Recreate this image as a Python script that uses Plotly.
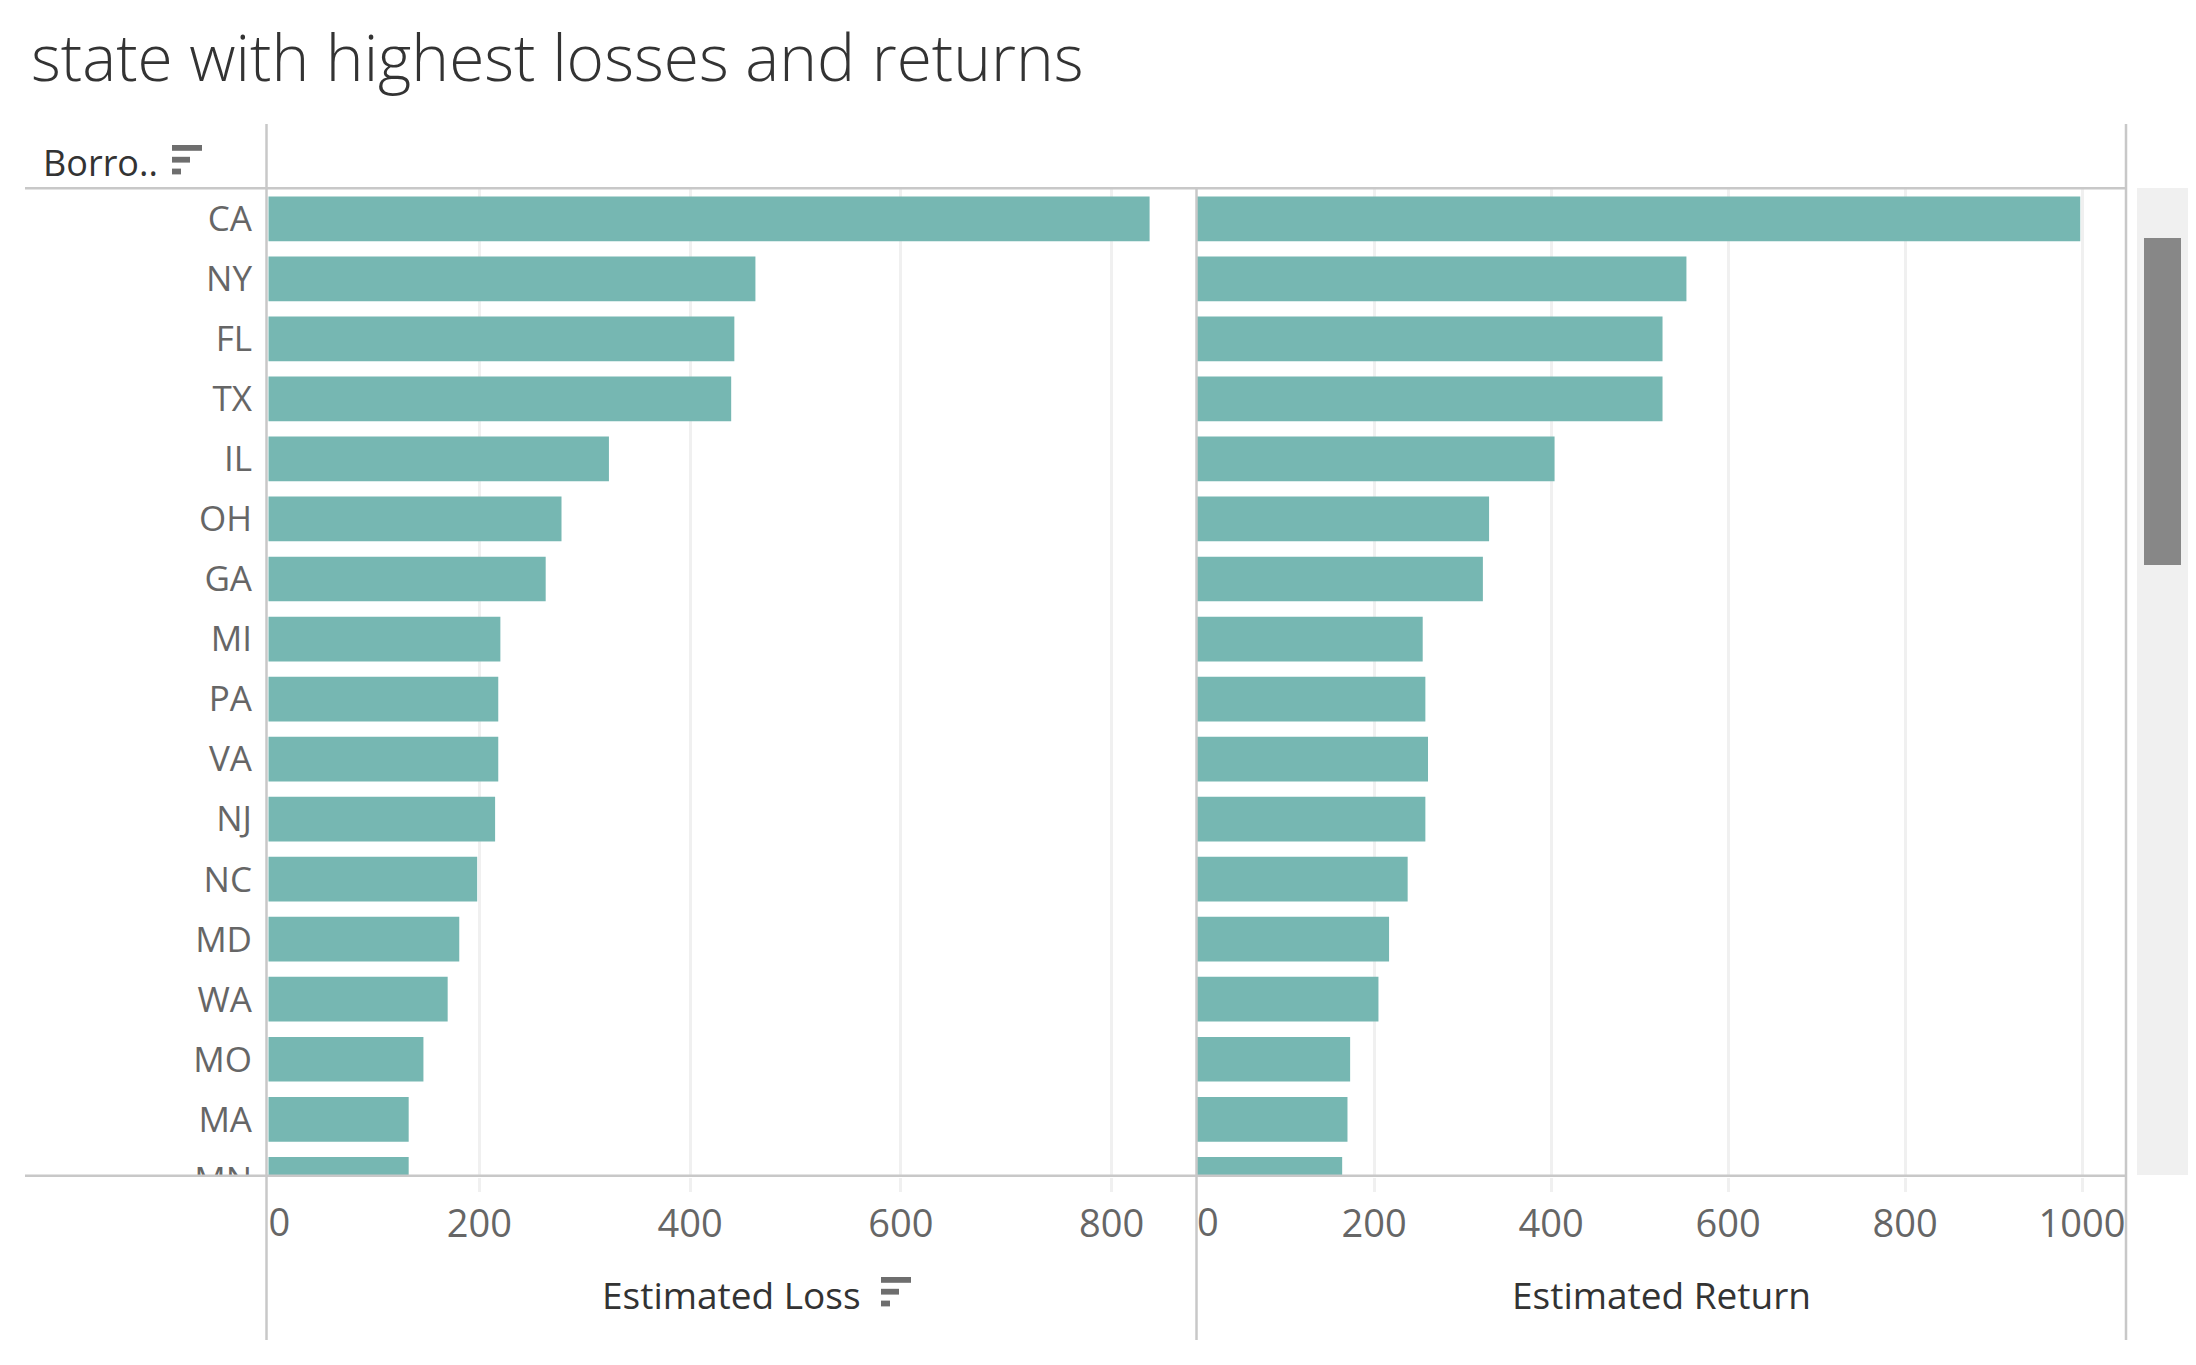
import plotly.graph_objects as go

# ---------------- data ----------------
states = ["CA", "NY", "FL", "TX", "IL", "OH", "GA", "MI", "PA", "VA",
          "NJ", "NC", "MD", "WA", "MO", "MA", "MN"]
estimated_loss = [836, 462, 442, 439, 323, 278, 263, 220, 218, 218,
                  215, 198, 181, 170, 147, 133, 133]
estimated_return = [998, 553, 526, 526, 404, 330, 323, 255, 258, 261,
                    258, 238, 217, 205, 173, 170, 164]
loss_ticks = [200, 400, 600, 800]
return_ticks = [200, 400, 600, 800, 1000]

title_text = "state with highest losses and returns"
row_header = "Borro.."
loss_title = "Estimated Loss"
return_title = "Estimated Return"

# ---------------- layout helpers ----------------
OFF = 8                      # default page body margin
FW, FH = 2180, 1340
FONT = "Open Sans"
BAR = "#76b7b2"
LINE = "#c8c8c8"
GRID = "#f0f0f0"


def fx(px):
    return (px - OFF) / FW


def fy(py):
    return 1 - (py - OFF) / FH


fig = go.Figure()

fig.add_trace(go.Bar(y=states, x=estimated_loss, orientation="h",
                     marker=dict(color=BAR, line=dict(width=0)),
                     xaxis="x", yaxis="y", hoverinfo="x+y"))
fig.add_trace(go.Bar(y=states, x=estimated_return, orientation="h",
                     marker=dict(color=BAR, line=dict(width=0)),
                     xaxis="x2", yaxis="y", hoverinfo="x+y"))
# row labels (clipped to the scrolled pane like the original view)
fig.add_trace(go.Scatter(y=states, x=[0.94] * len(states), mode="text",
                         text=states, textposition="middle left",
                         textfont=dict(family=FONT, size=35, color="#666666"),
                         cliponaxis=True, hoverinfo="skip",
                         xaxis="x3", yaxis="y2"))

tickfont = dict(family=FONT, size=38, color="#666666")
common_x = dict(showline=False, zeroline=False, showgrid=True, gridcolor=GRID,
                gridwidth=3, ticks="outside", ticklen=14, tickwidth=3,
                tickcolor=GRID, tickfont=tickfont, anchor="y",
                ticklabelstandoff=0, fixedrange=True)

Y_TOP, Y_BOT = 188.3, 1176.5
R_TOP, R_BOT = -0.508, 15.953
LBL_SHIFT = 0.06

fig.update_layout(
    width=FW, height=FH,
    margin=dict(l=0, r=0, t=0, b=0),
    paper_bgcolor="white", plot_bgcolor="white",
    showlegend=False, bargap=0.255,
    font=dict(family=FONT),
    xaxis=dict(domain=[fx(266.5), fx(1196.5)], range=[-1.9, 880.5],
               tickvals=loss_ticks, **common_x),
    xaxis2=dict(domain=[fx(1196.5), fx(2126)], range=[-0.6, 1049.7],
                tickvals=return_ticks, **common_x),
    xaxis3=dict(domain=[fx(25), fx(266.5)], range=[0, 1], visible=False,
                anchor="y2", fixedrange=True),
    xaxis4=dict(overlaying="x", matches="x", tickvals=[0], ticktext=["0"],
                ticklabelposition="outside right", showgrid=False,
                zeroline=False, ticks="", tickfont=tickfont, anchor="y",
                side="bottom", ticklabelstandoff=20),
    xaxis5=dict(overlaying="x2", matches="x2", tickvals=[0], ticktext=["0"],
                ticklabelposition="outside right", showgrid=False,
                zeroline=False, ticks="", tickfont=tickfont, anchor="y",
                side="bottom", ticklabelstandoff=20),
    yaxis=dict(domain=[fy(Y_BOT), fy(Y_TOP)], type="category",
               categoryorder="array", categoryarray=states,
               range=[R_BOT, R_TOP], showticklabels=False, showgrid=False,
               zeroline=False, showline=False, ticks="", anchor="x",
               fixedrange=True),
    yaxis2=dict(domain=[fy(Y_BOT), fy(Y_TOP)], type="category",
                categoryorder="array", categoryarray=states,
                range=[R_BOT - LBL_SHIFT, R_TOP - LBL_SHIFT],
                showticklabels=False, showgrid=False, zeroline=False,
                showline=False, ticks="", anchor="x3", fixedrange=True),
)

# invisible traces so the overlay axes are drawn
fig.add_trace(go.Scatter(x=[0], y=[states[0]], mode="markers",
                         marker=dict(opacity=0), xaxis="x4", yaxis="y",
                         hoverinfo="skip"))
fig.add_trace(go.Scatter(x=[0], y=[states[0]], mode="markers",
                         marker=dict(opacity=0), xaxis="x5", yaxis="y",
                         hoverinfo="skip"))

shapes = []


def hline(y, x0, x1, color=LINE, w=2.5):
    shapes.append(dict(type="line", xref="paper", yref="paper",
                       x0=fx(x0), x1=fx(x1), y0=fy(y), y1=fy(y),
                       line=dict(color=color, width=w), layer="above"))


def vline(x, y0, y1, color=LINE, w=2.5):
    shapes.append(dict(type="line", xref="paper", yref="paper",
                       x0=fx(x), x1=fx(x), y0=fy(y0), y1=fy(y1),
                       line=dict(color=color, width=w), layer="above"))


def rect(x0, y0, x1, y1, color):
    shapes.append(dict(type="rect", xref="paper", yref="paper",
                       x0=fx(x0), x1=fx(x1), y0=fy(y1), y1=fy(y0),
                       fillcolor=color, line=dict(width=0), layer="above"))


# frame lines
hline(188.3, 25, 2127)
hline(1175.8, 25, 2127)
vline(266.5, 124, 1340)
vline(1196.5, 188, 1340)
vline(2126, 124, 1340)

# sort icons
for (x0, y0) in [(172, 145), (881, 1277)]:
    rect(x0, y0, x0 + 30, y0 + 5.8, "#6e6e6e")
    rect(x0, y0 + 11.8, x0 + 18, y0 + 17.6, "#6e6e6e")
    rect(x0, y0 + 23.6, x0 + 9, y0 + 29.4, "#6e6e6e")

# scrollbar
rect(2137, 188, 2188, 1175, "#f0f0f0")
rect(2144, 238, 2181, 565, "#878787")

fig.update_layout(shapes=shapes)

annotations = [
    dict(text=title_text, x=fx(30), y=fy(57), xanchor="left", yanchor="middle",
         font=dict(family=FONT, size=64, color="#333333", weight=300)),
    dict(text=row_header, x=fx(42), y=fy(162), xanchor="left", yanchor="middle",
         font=dict(family=FONT, size=36, color="#333333", weight=500)),
    dict(text=loss_title, x=fx(731.5), y=fy(1294.5), xanchor="center",
         yanchor="middle",
         font=dict(family=FONT, size=37, color="#333333", weight=500)),
    dict(text=return_title, x=fx(1661), y=fy(1294.5), xanchor="center",
         yanchor="middle",
         font=dict(family=FONT, size=37, color="#333333", weight=500)),
]
for a in annotations:
    a.update(xref="paper", yref="paper", showarrow=False, borderpad=0)
fig.update_layout(annotations=annotations)

fig.write_html("out.html")
